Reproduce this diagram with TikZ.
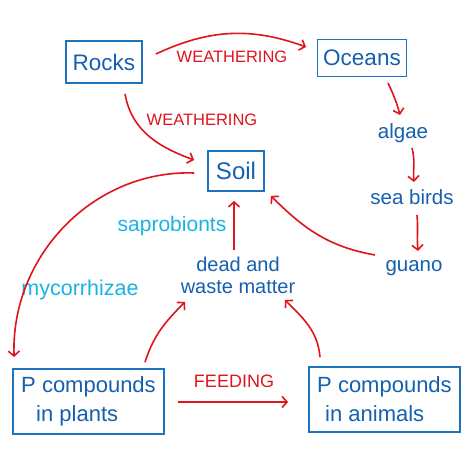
\documentclass[tikz,border=0pt]{standalone}
\usepackage{fontspec}
\setmainfont{Liberation Sans}
\usetikzlibrary{arrows.meta}
\definecolor{boxblue}{HTML}{1E73BE}
\definecolor{txtblue}{HTML}{1560B0}
\definecolor{arrred}{HTML}{E0141E}
\definecolor{cyantxt}{HTML}{1AB3E6}
\tikzset{
  x=1pt, y=1pt,
  box/.style={draw=boxblue, line width=1.8pt, text=txtblue, inner sep=0pt, font=\fontsize{22.5}{24}\selectfont},
  bluetxt/.style={text=txtblue, inner sep=0pt, font=\fontsize{20.5}{21}\selectfont},
  redlbl/.style={text=arrred, inner sep=0pt, font=\fontsize{16.5}{18}\selectfont},
  cyanlbl/.style={text=cyantxt, inner sep=0pt, font=\fontsize{21}{21}\selectfont},
  arr/.style={draw=arrred, line width=1.6pt, -{Straight Barb[length=5pt,width=11pt,line width=1.6pt]}}
}
\begin{document}
\begin{tikzpicture}
\useasboundingbox (0,0) rectangle (474,473);
\fill[white] (0,0) rectangle (474,473);
% boxes
\node[box, minimum width=76pt, minimum height=42pt] (rocks) at (104,411) {Rocks};
\node[box, minimum width=89pt, minimum height=37pt] (oceans) at (362,415) {Oceans};
\node[box, minimum width=56pt, minimum height=40pt, font=\fontsize{24}{24}\selectfont] (soil) at (236,302) {Soil};
\node[box, minimum width=151pt, minimum height=65pt, align=left, font=\fontsize{22}{29}\selectfont] (plants) at (88.5,71.5) {P compounds\\\hspace*{15pt}in plants\hspace*{30pt}};
\node[box, minimum width=151pt, minimum height=65pt, align=left, font=\fontsize{22}{29}\selectfont] (animals) at (384.5,73.5) {P compounds\\\hspace*{8pt}in animals\hspace*{20pt}};
% plain texts
\node[bluetxt] (algae) at (403,340) {algae};
\node[bluetxt] (birds) at (412,276) {sea birds};
\node[bluetxt] (guano) at (414,205) {guano};
\node[bluetxt, align=center, font=\fontsize{20}{22}\selectfont] (dead) at (238,198) {dead and\\waste matter};
% labels
\node[redlbl] (w1) at (232,416) {WEATHERING};
\node[redlbl] (w2) at (202,353) {WEATHERING};
\node[redlbl, font=\fontsize{18}{18}\selectfont] (feed) at (234,92) {FEEDING};
\node[cyanlbl] (sap) at (172,247) {saprobionts};
\node[cyanlbl, font=\fontsize{21.5}{21}\selectfont] (myc) at (80,183) {mycorrhizae};
% connectors
\draw[arr] ([shift={(13,8)}]rocks.east) to[out=25,in=160] ([shift={(-10.5,11)}]oceans.west);
\draw[arr] ([shift={(21,-10)}]rocks.south) to[out=-80,in=160] ([shift={(-13,11)}]soil.west);
\draw[arr] ([shift={(26,-5.5)}]oceans.south) to[out=-65,in=105] ([shift={(-3,18)}]algae.center);
\draw[arr] ([shift={(9,-15)}]algae.center) to[out=-75,in=95] ([shift={(2,15)}]birds.center);
\draw[arr] ([shift={(5,-18)}]birds.center) to[out=-85,in=95] ([shift={(4,17)}]guano.center);
\draw[arr] ([shift={(-39,13)}]guano.center) to[out=170,in=-45] ([shift={(6,-4)}]soil.south east);
\draw[arr] ([shift={(-4,25)}]dead.center) -- ([shift={(-2,-9)}]soil.south);
\draw[arr] ([shift={(-13,-2)}]soil.west) to[out=178,in=92] ([shift={(2,11)}]plants.north west);
\draw[arr] ([shift={(13,-0.5)}]plants.east) -- ([shift={(-20,-2.5)}]animals.west);
\draw[arr] ([shift={(56.5,6)}]plants.north) to[out=72,in=-135] ([shift={(-53,-27)}]dead.center);
\draw[arr] ([shift={(-64.5,9)}]animals.north) to[out=95,in=-45] ([shift={(47,-25)}]dead.center);
\end{tikzpicture}
\end{document}
